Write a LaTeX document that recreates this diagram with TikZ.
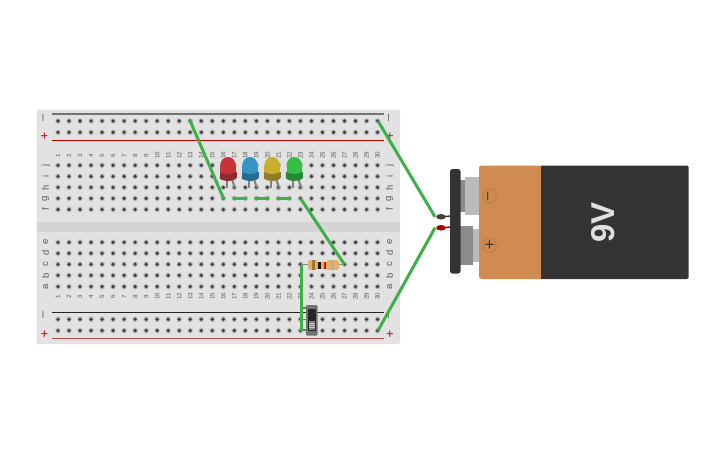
\documentclass[tikz,border=0pt]{standalone}
\usepackage{fontspec}
\setmainfont{Liberation Sans}
\definecolor{wiregreen}{HTML}{3DB04A}
\definecolor{board}{HTML}{E2E2E2}
\definecolor{orangebat}{HTML}{D08C50}
\definecolor{ringbat}{HTML}{B07A48}
\definecolor{darkbat}{HTML}{333333}
\definecolor{ledAa}{HTML}{C8333A}\definecolor{ledAb}{HTML}{8E2A30}
\definecolor{ledBa}{HTML}{3494C4}\definecolor{ledBb}{HTML}{256E92}
\definecolor{ledCa}{HTML}{C9AE2E}\definecolor{ledCb}{HTML}{8F7C24}
\definecolor{ledDa}{HTML}{33C044}\definecolor{ledDb}{HTML}{268A35}
\definecolor{resbody}{HTML}{DDB26C}
\begin{document}
\begin{tikzpicture}[x=1pt,y=-1pt,
  lbl/.style={font=\fontsize{6.2}{7}\selectfont,text=black!65,rotate=90,inner sep=0pt},
  letter/.style={font=\fontsize{9.5}{10}\selectfont,text=black!65,rotate=90,inner sep=0pt},
  wire/.style={draw=wiregreen,line width=3pt},
  lead/.style={draw=black!50,line width=2pt},
  sign/.style={font=\fontsize{13}{13}\selectfont,inner sep=0pt}]
\useasboundingbox (0,0) rectangle (725,453);
\fill[white] (0,0) rectangle (725,453);
% board
\fill[board,rounded corners=1.5pt] (36.5,109.5) rectangle (400,344);
\fill[black!17] (36.5,222) rectangle (400,232);
\draw[black!12,line width=.7pt] (36.5,150) -- (400,150) (36.5,303) -- (400,303);
\draw[black!55,line width=1.5pt] (52,114) -- (384,114);
\draw[red!75!black,line width=1.1pt] (52,140.5) -- (384,140.5);
\draw[black!85,line width=1pt] (52,312.5) -- (384,312.5);
\draw[red!55!black!70,line width=1.5pt] (52,338.5) -- (384,338.5);
\node[sign,text=black!60,rotate=90] (mA) at (44.5,118) {\textendash};
\node[sign,text=red!80!black] (pA) at (44.5,137) {+};
\node[sign,text=black!60,rotate=90] (mB) at (390,118) {\textendash};
\node[sign,text=red!80!black] (pB) at (390,137) {+};
\node[sign,text=black!60,rotate=90] (mC) at (44.5,315) {\textendash};
\node[sign,text=red!80!black] (pC) at (44.5,334.5) {+};
\node[sign,text=black!60,rotate=90] (mD) at (390,315) {\textendash};
\node[sign,text=red!80!black] (pD) at (390,334.5) {+};
% holes
\foreach \y in {121,132.3,165.3,176.4,187.4,198.4,209.5,242.3,253.3,264.3,275.4,286.6,319.3,330.6}{
  \foreach \n in {1,...,30}{
    \fill[black!14] ({58+(\n-1)*11.02},\y) circle (3.4);
    \fill[black!30] ({58+(\n-1)*11.02},\y) circle (2.5);
    \fill[black!75] ({58+(\n-1)*11.02},\y) circle (1.8);
  }
}
% numbers
\foreach \n in {1,...,30}{
  \node[lbl] (nt\n) at ({58+(\n-1)*11.02},155.5) {\n};
  \node[lbl] (nb\n) at ({58+(\n-1)*11.02},296.5) {\n};
}
% letters
\foreach \l/\y in {j/165.3,i/176.4,h/187.4,g/198.4,f/209.5,e/242.3,d/253.3,c/264.3,b/275.4,a/286.6}{
  \node[letter] (ll\l) at (45.5,\y) {\l};
  \node[letter] (lr\l) at (389.5,\y) {\l};
}
% LEDs
\foreach \x/\c/\d in {228/ledAa/ledAb,250/ledBa/ledBb,272.2/ledCa/ledCb,294.3/ledDa/ledDb}{
  \draw[lead] (\x-1.5,178) -- (\x-1.5,188);
  \draw[lead] (\x+3.5,178) -- (\x+7,188);
  \fill[fill=\d] (\x-8.5,172) rectangle (\x+8.5,177.5);
  \fill[fill=\d] (\x,177.5) ellipse (8.5 and 3.4);
  \fill[fill=\c] (\x,165.5) ellipse (7.8 and 8.5);
  \fill[fill=\c] (\x-7.8,165.5) rectangle (\x+7.8,171.5);
  \fill[fill=\c] (\x,171.5) ellipse (7.8 and 2.2);
}
% battery
\fill[black!45] (460,180) rectangle (465,212);
\fill[black!27] (465,177) rectangle (480,215);
\fill[black!27] (471,229) rectangle (480,262);
\fill[black!45] (460,226) rectangle (473,265);
\fill[orangebat,rounded corners=2.5pt] (479,165.5) rectangle (545,279);
\fill[darkbat,rounded corners=1.5pt] (541,165.5) rectangle (688.5,279);
\fill[darkbat] (541,165.5) rectangle (545,279);
\fill[darkbat,rounded corners=2.5pt] (450,169) rectangle (460.5,273.5);
\draw[ringbat,line width=.6pt] (489.5,196) circle (6.8);
\draw[ringbat,line width=.6pt] (489.5,245.5) circle (6.8);
\node[inner sep=0pt,rotate=90,font=\fontsize{15}{15}\selectfont,text=darkbat] (bm) at (489.5,196) {\textendash};
\node[inner sep=0pt,font=\fontsize{17}{17}\selectfont,text=darkbat] (bp) at (489.5,245.5) {+};
\node[inner sep=0pt,rotate=90,font=\bfseries\fontsize{33}{33}\selectfont,text=black!12] (nine) at (603.5,222.5) {9V};
% clips
\draw[black!80,line width=1.4pt] (445,216.5) -- (450,216);
\fill[black!75] (441,216.8) ellipse (4.8 and 2.8);
\draw[red!70!black,line width=1.4pt] (445,227.5) -- (450,227);
\fill[red!70!black] (441,227.8) ellipse (4.8 and 2.8);
% resistor
\fill[black!45] (301,264) rectangle (344,265.4);
\fill[resbody,rounded corners=2.5pt] (308,260) rectangle (318,270);
\fill[resbody] (314,261.5) rectangle (332,268.5);
\fill[resbody,rounded corners=2.5pt] (326,260) rectangle (339,270);
\fill[brown!90!black] (312,260.4) rectangle (315,269.6);
\fill[black!90] (318,261.5) rectangle (320.5,268.5);
\fill[red] (323.5,261.5) rectangle (326,268.5);
\fill[brown!70!black!60] (332,260.4) rectangle (333.2,269.6);
% switch
\draw[black!55,line width=1.2pt] (301,308) -- (306,308) (301,319.3) -- (306,319.3) (301,330) -- (306,330);
\fill[black!55,rounded corners=1pt] (306,305) rectangle (317.5,335.5);
\fill[black!85] (308,309) rectangle (315.5,331);
\fill[black!50] (309,321) rectangle (315,329.5);
\foreach \y in {323,325,327}{\draw[black!20,line width=.4pt] (309,\y) -- (315,\y);}
% wires
\coordinate (a1) at (190.2,121);
\coordinate (a2) at (223.5,198.4);
\coordinate (b1) at (233.5,198.4);
\coordinate (b2) at (246,198.4);
\coordinate (c1) at (255.5,198.4);
\coordinate (c2) at (268,198.4);
\coordinate (d1) at (277.5,198.4);
\coordinate (d2) at (290,198.4);
\coordinate (e1) at (300.5,198.4);
\coordinate (e2) at (344.5,264.5);
\coordinate (f1) at (378,121);
\coordinate (f2) at (435,216.8);
\coordinate (g1) at (378,330.6);
\coordinate (g2) at (435,227.8);
\coordinate (h1) at (301,264.5);
\coordinate (h2) at (301,330.6);
\draw[wire,line cap=round] (a1) -- (a2);
\draw[wire,line cap=round] (b1) -- (b2);
\draw[wire,line cap=round] (c1) -- (c2);
\draw[wire,line cap=round] (d1) -- (d2);
\draw[wire] (e1) -- (e2);
\draw[wire] (f1) -- (f2);
\draw[wire] (g1) -- (g2);
\draw[wire] (h1) -- (h2);
\end{tikzpicture}
\end{document}
